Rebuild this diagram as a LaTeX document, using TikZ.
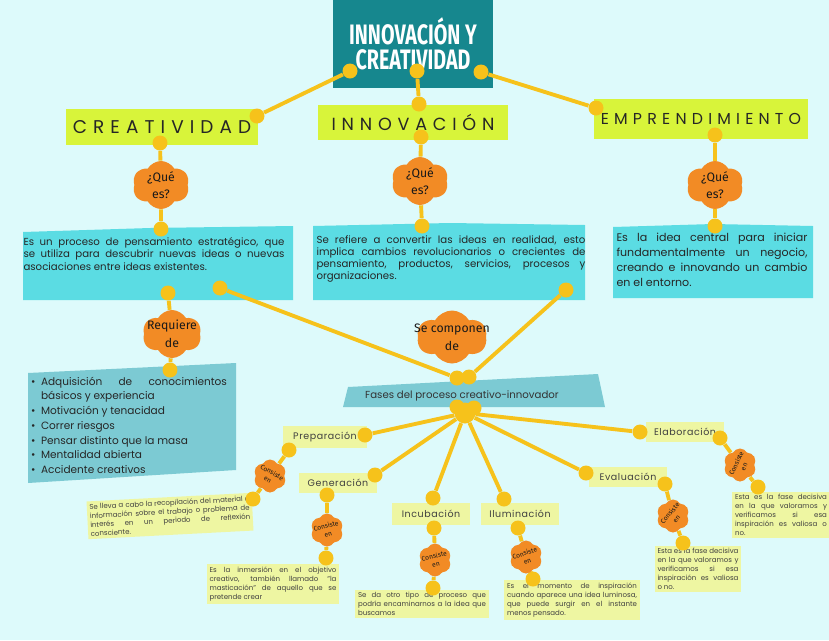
\documentclass[tikz,border=0pt]{standalone}
\usepackage{fontspec}
\setmainfont{Poppins}
\newfontfamily\titlefont{Fira Sans}[FakeStretch=0.7]
\newfontfamily\headfont{Poppins}[LetterSpace=33]
\newfontfamily\phasefont{Poppins}[LetterSpace=6]
\newfontfamily\blobfont{Fira Sans}
\usetikzlibrary{shapes,backgrounds,positioning}
\pgfdeclarelayer{front}
\pgfsetlayers{background,main,front}

\definecolor{pagebg}{HTML}{DDFAFB}
\definecolor{titleteal}{HTML}{16878E}
\definecolor{limebar}{HTML}{D8F43A}
\definecolor{cyanbox}{HTML}{5BDCE3}
\definecolor{greyteal}{HTML}{7CCAD3}
\definecolor{paleyel}{HTML}{EEF6A2}
\definecolor{gold}{HTML}{F6C21B}
\definecolor{blobor}{HTML}{F28B25}

\newcommand{\reqitem}[1]{\par\hangindent=0.2cm\hangafter=1\noindent\hbox to 0.2cm{\textbullet\hfil}#1\par}

\tikzstyle{titlebox}=[rectangle, fill=titleteal, text=white, align=center, font=\titlefont\bfseries\fontsize{16}{14.5}\selectfont, minimum width=3.2cm, minimum height=1.76cm]
\tikzstyle{head}=[rectangle, fill=limebar, text=black!85, minimum height=0.72cm]
\tikzstyle{phase}=[rectangle, fill=paleyel, text=black!75, font=\phasefont\fontsize{5.4}{6.5}\selectfont, minimum width=1.56cm, minimum height=0.4cm]
\tikzstyle{desc}=[align=justify, text=black!85, inner sep=0pt, font=\fontsize{5.8}{7}\selectfont]
\tikzstyle{note}=[fill=paleyel, align=justify, text=black!75, inner sep=1.5pt, font=\fontsize{4}{5.1}\selectfont]
\tikzstyle{dot}=[circle, fill=gold, inner sep=0pt, minimum size=0.3cm]
\tikzstyle{link}=[draw=gold, line width=2.2pt]
\tikzstyle{blob}=[cloud, cloud puffs=6, cloud puff arc=120, fill=blobor, inner sep=0pt]
\tikzstyle{quees}=[blob, minimum width=1.14cm, minimum height=0.96cm]
\tikzstyle{consiste}=[blob, minimum width=0.66cm, minimum height=0.66cm]
\tikzstyle{blobtext}=[align=center, inner sep=0pt, text=black!90, font=\blobfont\fontsize{7}{10}\selectfont]
\tikzstyle{smallblobtext}=[align=center, inner sep=0pt, text=black!90, font=\blobfont\fontsize{3.8}{4.8}\selectfont]

\begin{document}
\begin{tikzpicture}[x=0.02cm, y=-0.02cm]
\useasboundingbox (0,0) rectangle (829,640);

%background
\begin{scope}[on background layer]
\fill[pagebg](0,0) rectangle(829,640);
\end{scope}

\begin{scope}[on background layer]
\fill[cyanbox](23,232) -- (150,228) -- (293,226) -- (293,300) -- (23,300) -- cycle;
\fill[cyanbox](313,226) -- (450,223) -- (585,225) -- (585,300) -- (313,300) -- cycle;
\fill[cyanbox](613,227) -- (713,224) -- (813,226) -- (813,298) -- (613,298) -- cycle;
\end{scope}

\begin{scope}[on background layer]
\fill[greyteal](28,373) -- (236,363) -- (236,470) -- (28,483) -- cycle;
\fill[greyteal](348,387) -- (598,374) -- (605,407) -- (343,407) -- cycle;
\end{scope}

%Top
\node[titlebox] (title) at (413,44) {INNOVACIÓN Y\\CREATIVIDAD};
\node[head, minimum width=3.86cm, font=\headfont\fontsize{10.5}{12}\selectfont] (creat) at (162,127) {CREATIVIDAD};
\node[head, minimum width=3.82cm, minimum height=0.7cm, font=\headfont\fontsize{10}{12}\selectfont] (innov) at (413,122) {INNOVACIÓN};
\node[head, minimum width=4.3cm, minimum height=0.8cm, font=\headfont\fontsize{9}{11}\selectfont] (empre) at (701,119) {EMPRENDIMIENTO};

%Descriptions
\node[desc, text width=5.22cm] (creatdesc) at (154,254) {Es un proceso de pensamiento estratégico, que\linebreak se utiliza para descubrir nuevas ideas o nuevas\linebreak asociaciones entre ideas existentes.};
\node[desc, text width=5.38cm] (innovdesc) at (451,259) {Se refiere a convertir las ideas en realidad, esto\linebreak implica cambios revolucionarios o crecientes de\linebreak pensamiento, productos, servicios, procesos y\linebreak organizaciones.};
\node[desc, text width=3.82cm, font=\fontsize{6.3}{8.5}\selectfont] (empredesc) at (712,260) {Es la idea central para iniciar\linebreak fundamentalmente un negocio,\linebreak creando e innovando un cambio\linebreak en el entorno.};

%Requirements
\node[desc, text width=3.92cm, font=\fontsize{6}{8.4}\selectfont] (reqlist) at (129,422) {\reqitem{Adquisición de conocimientos\linebreak básicos y experiencia}\reqitem{Motivación y tenacidad}\reqitem{Correr riesgos}\reqitem{Pensar distinto que la masa}\reqitem{Mentalidad abierta}\reqitem{Accidente creativos}};

%Phases
\node[font=\fontsize{5.8}{7}\selectfont, text=black!80] (fases) at (462,396) {Fases del proceso creativo-innovador};
\node[phase, minimum width=1.68cm] (prep) at (325,437) {Preparación};
\node[phase] (gen) at (338,483) {Generación};
\node[phase, minimum height=0.44cm] (incu) at (431,514) {Incubación};
\node[phase, minimum height=0.44cm] (ilum) at (520,514) {Iluminación};
\node[phase] (eval) at (628,477) {Evaluación};
\node[phase] (elab) at (685,432) {Elaboración};

%Notes
\node[note, text width=3.2cm, rotate=3] (prepnote) at (170,516) {Se lleva a cabo la recopilación del material e\linebreak información sobre el trabajo o problema de\linebreak interés en un periodo de reflexión\linebreak consciente.};
\node[note, text width=2.54cm] (gennote) at (273,584) {Es la inmersión en el objetivo\linebreak creativo, también llamado "la\linebreak masticación" de aquello que se\linebreak pretende crear};
\node[note, text width=2.56cm] (incunote) at (422,604) {Se da otro tipo de proceso que\linebreak podría encaminarnos a la idea que\linebreak buscamos};
\node[note, text width=2.6cm] (ilumnote) at (572,600) {Es el momento de inspiración\linebreak cuando aparece una idea luminosa,\linebreak que puede surgir en el instante\linebreak menos pensado.};
\node[note, text width=1.62cm] (evalnote) at (698,569) {Esta es la fase decisiva\linebreak en la que valoramos y\linebreak verificamos si esa\linebreak inspiración es valiosa\linebreak o no.};
\node[note, text width=1.84cm] (elabnote) at (781,515) {Esta es la fase decisiva\linebreak en la que valoramos y\linebreak verificamos si esa\linebreak inspiración es valiosa o\linebreak no.};

\begin{pgfonlayer}{front}
%dots top
\node[dot] (t1) at (350,71) {};
\node[dot] (t2) at (417,71) {};
\node[dot] (t3) at (481,72) {};
\node[dot] (c1) at (257,116) {};
\node[dot] (c2) at (160,143) {};
\node[dot] (i1) at (419,104) {};
\node[dot] (i2) at (421,137) {};
\node[dot] (e1) at (596,108) {};
\node[dot] (e2) at (715,135) {};
\node[dot] (cc) at (161,229) {};
\node[dot] (ci) at (422,226) {};
\node[dot] (ce) at (715,226) {};
\node[dot] (cb1) at (168,293) {};
\node[dot] (cb2) at (220,288) {};
\node[dot] (ib) at (566,290) {};
\node[dot] (rb) at (170,370) {};
\node[dot] (f1) at (457,378) {};
\node[dot] (f2) at (469,377) {};
\node[dot] (hubl) at (457,407) {};
\node[dot] (hubr) at (474,408) {};
\node[dot, minimum size=0.42cm] (hub) at (465,413) {};
%dots phases
\node[dot] (pr) at (365,435) {};
\node[dot] (pl) at (289,450) {};
\node[dot] (pe) at (253,499) {};
\node[dot] (gr) at (375,475) {};
\node[dot] (gb) at (327,495) {};
\node[dot] (ge) at (326,558) {};
\node[dot] (it) at (433,498) {};
\node[dot] (ibt) at (434,528) {};
\node[dot] (ie) at (433,588) {};
\node[dot] (lt) at (504,499) {};
\node[dot] (lb) at (518,528) {};
\node[dot] (le) at (533,579) {};
\node[dot] (vl) at (586,473) {};
\node[dot] (vr) at (665,484) {};
\node[dot] (ve) at (683,543) {};
\node[dot] (al) at (640,432) {};
\node[dot] (ar) at (720,438) {};
\node[dot] (ae) at (758,487) {};
%blobs
\node[quees, label={[blobtext]center:¿Qué\\es?}] (qc) at (161,185) {};
\node[quees, label={[blobtext]center:¿Qué\\es?}] (qi) at (420,181) {};
\node[quees, label={[blobtext]center:¿Qué\\es?}] (qe) at (715,185) {};
\node[quees, minimum width=1.18cm, label={[blobtext]center:Requiere\\de}] (rq) at (172,334) {};
\node[quees, minimum width=1.4cm, minimum height=1.06cm, label={[blobtext]center:Se componen\\de}] (comp) at (452,337) {};
\node[consiste, label={[smallblobtext, rotate=-30]center:Consiste\\en}] (pc) at (270,476) {};
\node[consiste, label={[smallblobtext, rotate=15]center:Consiste\\en}] (gc) at (327,530) {};
\node[consiste, label={[smallblobtext, rotate=12]center:Consiste\\en}] (ic) at (435,560) {};
\node[consiste, label={[smallblobtext, rotate=18]center:Consiste\\en}] (lc) at (526,557) {};
\node[consiste, label={[smallblobtext, rotate=50]center:Consiste\\en}] (vc) at (673,516) {};
\node[consiste, label={[smallblobtext, rotate=65]center:Consiste\\en}] (ac) at (740,465) {};
\end{pgfonlayer}

%connectors
\draw[link] (t1) -- (c1);
\draw[link] (t2) -- (i1);
\draw[link] (t3) -- (e1);
\draw[link] (c2) -- (qc) -- (cc);
\draw[link] (i2) -- (qi) -- (ci);
\draw[link] (e2) -- (qe) -- (ce);
\draw[link] (cb1) -- (rq) -- (rb);
\draw[link] (cb2) -- (f1);
\draw[link] (ib) -- (f2);
\draw[link] (hub) -- (pr);
\draw[link] (hub) -- (gr);
\draw[link] (hub) -- (it);
\draw[link] (hub) -- (lt);
\draw[link] (hub) -- (vl);
\draw[link] (hub) -- (al);
\draw[link] (pl) -- (pc) -- (pe);
\draw[link] (gb) -- (gc) -- (ge);
\draw[link] (ibt) -- (ic) -- (ie);
\draw[link] (lb) -- (lc) -- (le);
\draw[link] (vr) -- (vc) -- (ve);
\draw[link] (ar) -- (ac) -- (ae);

\end{tikzpicture}
\end{document}
